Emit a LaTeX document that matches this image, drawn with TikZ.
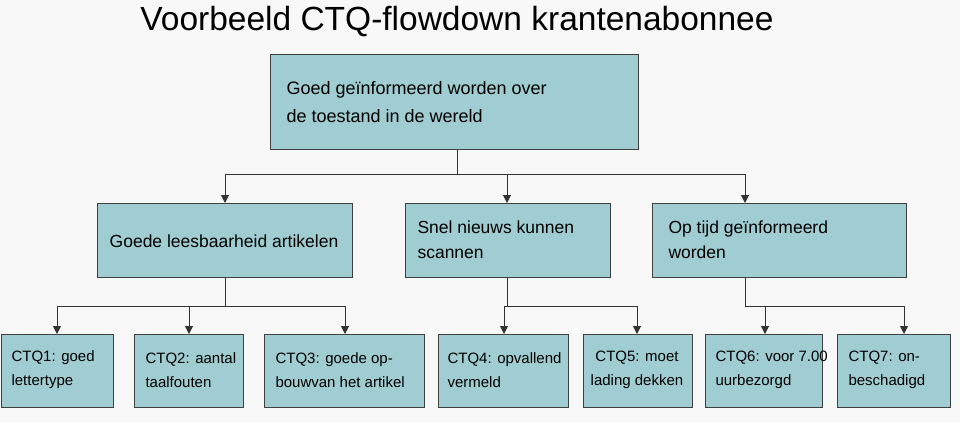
\documentclass[tikz,border=0pt]{standalone}
\usepackage{fontspec}
\setmainfont{Liberation Sans}
\usetikzlibrary{arrows.meta}
\definecolor{boxfill}{RGB}{160,205,210}
\definecolor{bg}{RGB}{248,248,248}
\begin{document}
\begin{tikzpicture}[x=1pt,y=-1pt,
  conn/.style={draw=black!80,line width=1pt},
  arr/.style={conn,-{Triangle[length=8pt,width=8pt]}},
  t3/.style={anchor=west,align=left,font=\fontsize{15}{24}\selectfont}]
\fill[bg] (0,0) rectangle (960,422);
\useasboundingbox (0,0) rectangle (960,422);
\node (title) at (457,22) {\fontsize{33.5}{38}\selectfont Voorbeeld CTQ-flowdown krantenabonnee};
\draw[line width=1pt,draw=black!75,fill=boxfill] (270,55) rectangle (638,150);
\coordinate (top) at (457,150);
\node[anchor=west,align=left,font=\fontsize{18}{28}\selectfont] (t) at (283,102) {Goed geïnformeerd worden over\\de toestand in de wereld};
% level 2
\draw[line width=1pt,draw=black!75,fill=boxfill] (97,203) rectangle (352,277);
\draw[line width=1pt,draw=black!75,fill=boxfill] (405,203) rectangle (610,277);
\draw[line width=1pt,draw=black!75,fill=boxfill] (652,203) rectangle (906,277);
\node[font=\fontsize{17.5}{25}\selectfont] (b1) at (224,241) {Goede leesbaarheid artikelen};
\node[anchor=west,align=left,font=\fontsize{17.5}{25}\selectfont] (b2) at (414,240) {Snel nieuws kunnen\\scannen};
\node[anchor=west,align=left,font=\fontsize{17.5}{25}\selectfont] (b3) at (665,240) {Op tijd geïnformeerd\\worden};
\coordinate (b1b) at (225,277); \coordinate (b2b) at (507,277); \coordinate (b3b) at (745,277);
\coordinate (b1t) at (225,203); \coordinate (b2t) at (507,203); \coordinate (b3t) at (745,203);
% level 3
\foreach \a/\b in {1/113,134/243,264/424,438/568,583/692,705/822,837/950}{
  \draw[line width=1pt,draw=black!75,fill=boxfill] (\a,334) rectangle (\b,407);
}
\node[t3] (c1) at (8,370) {CTQ1: goed\\lettertype};
\node[t3] (c2) at (142,370) {CTQ2: aantal\\taalfouten};
\node[t3] (c3) at (272,370) {CTQ3: goede op-\\bouwvan het artikel};
\node[t3] (c4) at (444,370) {CTQ4: opvallend\\vermeld};
\node[align=center,font=\fontsize{15}{24}\selectfont] (c5) at (637,370) {CTQ5: moet\\lading dekken};
\node[t3] (c6) at (712,370) {CTQ6: voor 7.00\\uurbezorgd};
\node[t3] (c7) at (845,370) {CTQ7: on-\\beschadigd};
% connectors
\draw[conn] (top) -- (457,175);
\draw[arr] (457,175) -| (b1t);
\draw[arr] (457,175) -| (b2t);
\draw[arr] (457,175) -| (b3t);
\draw[conn] (b1b) -- (225,306);
\draw[arr] (225,306) -| (57,334);
\draw[arr] (225,306) -| (189,334);
\draw[arr] (225,306) -| (345,334);
\draw[conn] (b2b) -- (507,306);
\draw[arr] (507,306) -| (504,334);
\draw[arr] (507,306) -| (637,334);
\draw[conn] (b3b) -- (745,306);
\draw[arr] (745,306) -| (765,334);
\draw[arr] (745,306) -| (904,334);
\end{tikzpicture}
\end{document}
